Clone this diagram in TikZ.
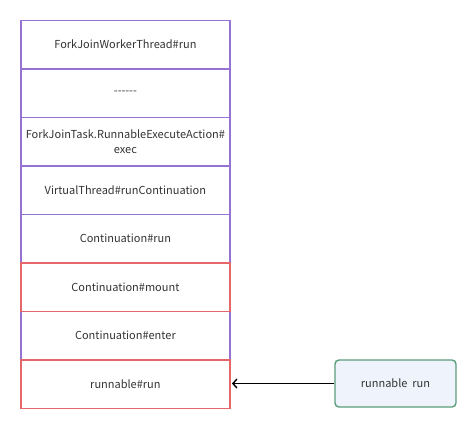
\documentclass[tikz,border=0pt]{standalone}
\usepackage{fontspec}
\setmainfont{Noto Sans CJK SC}
\usetikzlibrary{arrows.meta}
\definecolor{pur}{HTML}{9673D3}
\definecolor{redb}{HTML}{E5676A}
\definecolor{grn}{HTML}{5B9E7B}
\definecolor{lblue}{HTML}{EEF3FC}
\definecolor{txt}{HTML}{333333}
\begin{document}
\begin{tikzpicture}[x=1pt,y=-1pt,
  frame/.style={draw=pur,line width=1.8pt,minimum width=209pt,minimum height=48.5pt,inner sep=0pt,anchor=north west,text=txt,font=\fontsize{11}{15}\selectfont,align=center},
  redframe/.style={frame,draw=redb},
  sidebox/.style={draw=grn,line width=1.4pt,fill=lblue,rounded corners=4pt,minimum width=121pt,minimum height=47pt,inner sep=0pt,text=txt,font=\fontsize{11}{15}\selectfont},
  arr/.style={draw=black,line width=1.4pt,-{Straight Barb[length=4pt,width=9pt]}}]
\useasboundingbox (0,0) rectangle (474,426);
\node[frame] (a) at (20,19.5) {ForkJoinWorkerThread\#run};
\node[frame] (b) at (20,68) {-{}-{}-{}-{}-{}-};
\node[frame] (c) at (20,116.5) {ForkJoinTask.RunnableExecuteAction\#\\exec};
\node[frame] (d) at (20,165) {VirtualThread\#runContinuation};
\node[frame] (e) at (20,213.5) {Continuation\#run};
\node[frame] (g) at (20,310.5) {Continuation\#enter};
\node[redframe] (f) at (20,262) {Continuation\#mount};
\node[redframe] (h) at (20,359) {runnable\#run};
\node[sidebox] (r) at (395.5,383.5) {runnable\ \ run};
\coordinate (tip) at (232,383.5);
\draw[arr] (r.west) -- (tip);
\end{tikzpicture}
\end{document}
